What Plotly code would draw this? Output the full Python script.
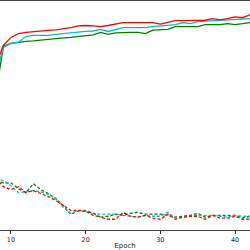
import plotly.graph_objects as go

epochs = list(range(8, 43))

acc_red = [72.5, 80.7, 84.1, 85.8, 86.3, 86.7, 87.1, 87.2, 87.4, 87.8, 88.4, 89.1, 89.3, 89.1, 88.8,
           89.3, 89.9, 90.6, 90.6, 90.6, 90.6, 90.6, 89.9, 90.6, 91.4, 91.4, 91.4, 91.4, 91.6, 92.3,
           91.8, 92.3, 93.1, 92.7, 94.0]
acc_cyan = [68.2, 79.8, 81.5, 82.0, 84.5, 85.0, 85.0, 85.0, 85.4, 85.8, 86.1, 86.3, 86.7, 86.9, 87.6,
            86.7, 87.6, 88.4, 88.4, 88.4, 88.4, 88.8, 89.1, 89.5, 89.7, 90.6, 90.1, 91.0, 91.2, 91.4,
            91.6, 91.8, 92.1, 92.3, 92.3]
acc_green = [60.5, 80.3, 81.5, 82.0, 82.4, 82.6, 83.0, 83.3, 83.5, 83.9, 84.1, 84.5, 84.8, 85.2, 86.3,
             85.4, 86.1, 86.3, 86.3, 86.3, 85.8, 87.3, 87.6, 87.6, 88.8, 88.8, 88.8, 88.8, 89.7, 89.7,
             89.7, 90.1, 89.7, 90.1, 90.6]

loss_red = [22.7, 18.9, 17.6, 18.9, 16.3, 17.2, 15.9, 14.6, 12.9, 10.7, 8.6, 8.6, 8.2, 7.3, 5.6,
            4.7, 4.7, 7.7, 6.0, 5.6, 6.4, 5.2, 4.7, 6.9, 4.7, 5.6, 6.0, 6.0, 4.7, 6.4,
            5.2, 5.2, 6.0, 4.7, 4.7]
loss_green = [21.5, 20.6, 20.6, 18.0, 16.3, 20.2, 17.6, 15.9, 13.7, 10.7, 6.9, 8.2, 8.2, 6.4, 5.6,
              6.0, 6.9, 6.4, 7.3, 7.7, 6.9, 6.9, 6.9, 6.4, 5.6, 6.0, 6.4, 7.3, 5.6, 6.4,
              6.4, 6.4, 6.4, 5.2, 6.0]
loss_cyan = [22.7, 21.5, 19.3, 16.3, 16.7, 17.2, 16.7, 15.5, 13.7, 9.9, 7.3, 8.6, 8.6, 7.3, 6.9,
             6.9, 6.9, 6.4, 6.0, 5.6, 6.4, 6.0, 6.0, 7.7, 5.2, 5.6, 6.0, 6.4, 6.4, 6.4,
             6.0, 5.6, 6.4, 6.0, 6.0]

x_ticks = [10, 20, 30, 40]

RED, CYAN, GREEN = "#ff0000", "#00bfbf", "#008000"

fig = go.Figure()
for ys, c in [(acc_green, GREEN), (acc_cyan, CYAN), (acc_red, RED)]:
    fig.add_trace(go.Scatter(x=epochs, y=ys, mode="lines",
                             line=dict(color=c, width=1.3), showlegend=False))
for ys, c in [(loss_green, GREEN), (loss_cyan, CYAN), (loss_red, RED)]:
    fig.add_trace(go.Scatter(x=epochs, y=ys, mode="lines",
                             line=dict(color=c, width=1.3, dash="3px,2px"), showlegend=False))

fig.update_layout(
    width=250, height=250,
    margin=dict(l=0, r=0, t=0, b=17),
    paper_bgcolor="white", plot_bgcolor="white",
    font=dict(family="DejaVu Sans", size=7, color="#222"),
    xaxis=dict(range=[8.53, 42.0], tickvals=x_ticks, ticks="outside", ticklen=3,
               tickwidth=0.8, tickcolor="#333", showgrid=False, zeroline=False,
               showline=True, linecolor="#444", linewidth=0.8, mirror=True,
               tickfont=dict(size=6.5),
               title=dict(text="Epoch", standoff=1, font=dict(size=7))),
    yaxis=dict(range=[0, 100], showticklabels=False, ticks="", showgrid=False,
               zeroline=False, showline=False),
)

fig.write_html("out.html")
